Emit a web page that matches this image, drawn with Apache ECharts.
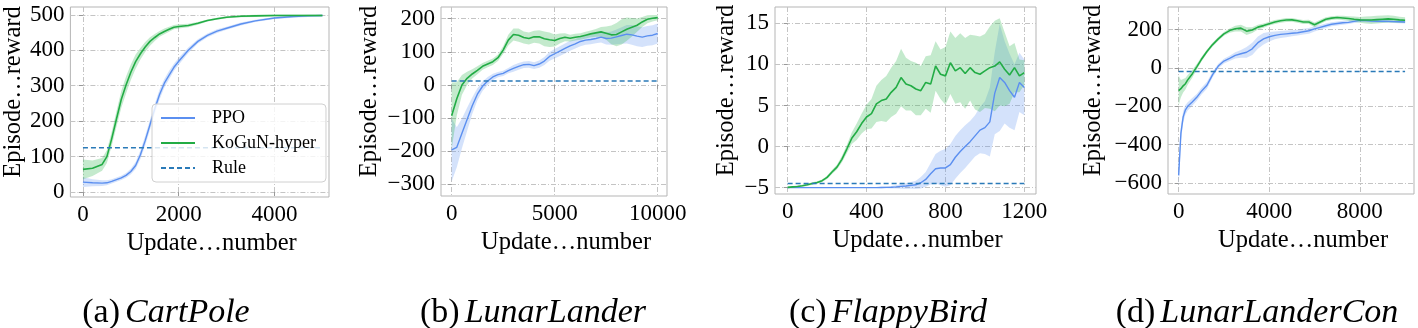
<!DOCTYPE html>
<html>
<head>
<meta charset="utf-8">
<script src="https://cdn.jsdelivr.net/npm/echarts@6/dist/echarts.min.js"></script>
<style>
  html, body { margin: 0; padding: 0; background: #fff; }
  #chart { width: 1418px; height: 328px; }
</style>
</head>
<body>
<div id="chart"></div>
<script>
// ---- (a) CartPole ----
const cartX = [0, 200, 400, 500, 600, 700, 800, 900, 1000, 1100, 1200, 1300, 1400, 1500, 1600, 1700, 1800, 1900, 2000, 2200, 2400, 2600, 2800, 3000, 3300, 3600, 4000, 4400, 4700, 5000];
const cartPpo = [28, 26, 25, 26, 30, 35, 40, 47, 58, 75, 105, 145, 190, 235, 275, 307, 330, 352, 369, 400, 425, 442, 454, 462, 474, 483, 491, 495, 497, 498];
const cartPpoSd = [14, 10, 8, 7, 6, 6, 6, 7, 8, 10, 12, 14, 14, 14, 14, 12, 12, 10, 10, 8, 6, 5, 5, 4, 4, 3, 3, 3, 3, 3];
const cartKog = [64, 67, 78, 100, 150, 206, 261, 302, 338, 368, 390, 409, 425, 436, 446, 453, 459, 465, 467, 470, 476, 484, 489, 493, 496, 497, 498, 498, 498, 498];
const cartKogSd = [28, 22, 18, 18, 20, 22, 24, 24, 22, 20, 16, 14, 12, 10, 8, 8, 7, 6, 6, 5, 4, 3, 3, 3, 3, 3, 3, 3, 3, 3];
const cartRule = 125;

// ---- (b) LunarLander ----
const lunarX = [0, 250, 500, 750, 1000, 1250, 1500, 1750, 2000, 2250, 2500, 2750, 3000, 3250, 3500, 3750, 4000, 4250, 4500, 4750, 5000, 5250, 5500, 5750, 6000, 6250, 6500, 6750, 7000, 7250, 7500, 7750, 8000, 8250, 8500, 8750, 9000, 9250, 9500, 9750, 10000];
const lunarPpo = [-196, -188, -146, -104, -63, -28, -4, 12, 24, 31, 35, 43, 50, 56, 61, 62, 58, 63, 72, 86, 94, 102, 110, 118, 124, 131, 135, 137, 140, 144, 140, 141, 145, 149, 153, 151, 147, 144, 148, 150, 155];
const lunarPpoSd = [95, 60, 45, 35, 25, 18, 14, 12, 10, 8, 8, 8, 10, 10, 10, 10, 10, 11, 12, 13, 14, 15, 15, 15, 14, 14, 14, 14, 14, 16, 18, 20, 22, 25, 28, 30, 30, 30, 30, 30, 30];
const lunarKog = [-93, -42, 0, 20, 33, 44, 56, 63, 70, 82, 105, 135, 152, 150, 143, 140, 145, 145, 139, 136, 134, 140, 144, 141, 144, 146, 150, 154, 157, 160, 156, 151, 152, 160, 168, 174, 180, 190, 198, 201, 203];
const lunarKogSd = [100, 50, 30, 20, 14, 12, 10, 10, 10, 10, 12, 16, 18, 20, 18, 18, 18, 20, 22, 22, 18, 15, 12, 10, 10, 10, 10, 10, 12, 15, 20, 28, 35, 38, 35, 28, 20, 15, 12, 10, 8];
const lunarRule = 12;

// ---- (c) FlappyBird ----
const flappyX = [0, 25, 50, 75, 100, 125, 150, 175, 200, 225, 250, 275, 300, 325, 350, 375, 400, 425, 450, 475, 500, 525, 550, 575, 600, 625, 650, 675, 700, 725, 750, 775, 800, 825, 850, 875, 900, 925, 950, 975, 1000, 1025, 1050, 1075, 1100, 1125, 1150, 1175, 1200];
const flappyPpo = [-5, -5, -5, -5, -5, -5, -5, -5, -5, -5, -5, -5, -5, -5, -5, -5, -5, -5, -5, -4.98, -4.97, -4.95, -4.9, -4.84, -4.8, -4.72, -4.65, -4.4, -4, -3.3, -2.7, -2.6, -2.6, -2.2, -1.3, -0.6, 0, 0.6, 1.3, 2, 2.3, 3, 6.5, 8.4, 7.8, 6.8, 6, 7.8, 7.2];
const flappyPpoSd = [0.05, 0.05, 0.05, 0.05, 0.05, 0.05, 0.05, 0.05, 0.05, 0.05, 0.05, 0.05, 0.05, 0.05, 0.05, 0.05, 0.05, 0.05, 0.05, 0.08, 0.1, 0.15, 0.2, 0.28, 0.35, 0.42, 0.5, 0.7, 0.9, 1.3, 1.8, 2.1, 2.3, 2.5, 2.6, 2.6, 2.6, 2.5, 2.5, 2.8, 3.2, 4.2, 5, 6.5, 5, 4.5, 4, 3.6, 3.4];
const flappyKog = [-4.96, -4.9, -4.85, -4.77, -4.65, -4.5, -4.38, -4.15, -3.75, -3.1, -2.5, -1.55, -0.3, 1, 1.8, 2.8, 3.6, 4, 5.2, 5.6, 5.8, 6.6, 7.2, 8.4, 7.6, 7.4, 7, 6.8, 7.8, 7.6, 9.8, 8.8, 8.6, 10.2, 9.2, 9.6, 8.9, 9.6, 9, 8.8, 9.2, 9.6, 9.8, 10.3, 9.4, 8.7, 9.6, 8.6, 9];
const flappyKogSd = [0.1, 0.1, 0.12, 0.12, 0.14, 0.15, 0.15, 0.15, 0.2, 0.25, 0.3, 0.4, 0.5, 0.7, 1, 1.2, 1.5, 1.8, 2.2, 2.5, 2.8, 3, 3.2, 3.5, 3.2, 3, 3.2, 3, 3.2, 3.5, 3, 3, 3.5, 3.8, 4, 4.2, 4.3, 4, 4.5, 4.6, 4.5, 5, 5.5, 5.3, 4.5, 3.5, 3, 2, 1.5];
const flappyRule = -4.5;

// ---- (d) LunarLanderCon ----
const conX = [0, 50, 100, 200, 300, 400, 600, 800, 1000, 1250, 1500, 1750, 2000, 2250, 2500, 2750, 3000, 3250, 3500, 3750, 4000, 4250, 4500, 4750, 5000, 5250, 5500, 5750, 6000, 6250, 6500, 6750, 7000, 7250, 7500, 7750, 8000, 8250, 8500, 8750, 9000, 9250, 9500, 9750, 10000];
const conPpo = [-560, -450, -340, -255, -218, -200, -177, -153, -122, -90, -35, 10, 36, 50, 66, 74, 82, 100, 132, 152, 163, 170, 175, 178, 181, 184, 189, 194, 204, 212, 220, 228, 232, 236, 238, 243, 248, 247, 245, 244, 244, 243, 242, 241, 240];
const conPpoSd = [60, 50, 40, 30, 25, 22, 20, 18, 18, 18, 15, 12, 12, 14, 16, 20, 28, 32, 32, 30, 25, 20, 18, 18, 16, 15, 15, 15, 14, 12, 12, 11, 10, 10, 9, 9, 8, 8, 8, 8, 8, 8, 8, 8, 8];
const conKog = [-118, -112, -108, -93, -82, -62, -31, 6, 44, 86, 122, 152, 178, 195, 205, 208, 192, 198, 213, 221, 231, 240, 246, 250, 251, 246, 240, 240, 225, 240, 254, 260, 263, 261, 258, 254, 251, 250, 250, 252, 254, 256, 254, 251, 249];
const conKogSd = [80, 60, 45, 35, 30, 25, 20, 15, 12, 11, 10, 10, 10, 11, 15, 18, 20, 15, 12, 11, 10, 10, 10, 10, 10, 10, 10, 11, 12, 11, 10, 10, 10, 11, 12, 14, 15, 18, 20, 20, 20, 19, 18, 16, 15];
const conRule = -18;

// axis ticks
const xTicks = [[0, 2000, 4000], [0, 5000, 10000], [0, 400, 800, 1200], [0, 4000, 8000]];
const yTicks = [[0, 100, 200, 300, 400, 500], [-300, -200, -100, 0, 100, 200], [-5, 0, 5, 10, 15], [-600, -400, -200, 0, 200]];
const captions = [['(a)', 'CartPole'], ['(b)', 'LunarLander'], ['(c)', 'FlappyBird'], ['(d)', 'LunarLanderCon']];

const FONT = '"Liberation Serif", "Times New Roman", serif';
const PPO_C = '#5b8ff0';
const KOG_C = '#22ac45';
const RULE_C = '#2a7ab8';

const panels = [
  { x: cartX, ppo: cartPpo, ppoSd: cartPpoSd, kog: cartKog, kogSd: cartKogSd, rule: cartRule,
    grid: { left: 68, top: 7, width: 261, height: 190 }, xr: [-262, 5138], yr: [-14, 522], yGap: 44, cx: 161 },
  { x: lunarX, ppo: lunarPpo, ppoSd: lunarPpoSd, kog: lunarKog, kogSd: lunarKogSd, rule: lunarRule,
    grid: { left: 441, top: 7, width: 226, height: 189 }, xr: [-516, 10452], yr: [-335, 235], yGap: 59, cx: 528 },
  { x: flappyX, ppo: flappyPpo, ppoSd: flappyPpoSd, kog: flappyKog, kogSd: flappyKogSd, rule: flappyRule,
    grid: { left: 775, top: 7, width: 261, height: 187 }, xr: [-64, 1259], yr: [-5.77, 16.98], yGap: 36, cx: 883 },
  { x: conX, ppo: conPpo, ppoSd: conPpoSd, kog: conKog, kogSd: conKogSd, rule: conRule,
    grid: { left: 1168, top: 7, width: 246, height: 187 }, xr: [-470, 10393], yr: [-657, 318], yGap: 62, cx: 1252 }
];

const minus = v => String(v).replace('-', '\u2212');

function band(gi, xs, mean, sd, fill) {
  return {
    type: 'custom', xAxisIndex: gi, yAxisIndex: gi, silent: true, z: 1,
    data: xs.map((x, i) => [x, mean[i] - sd[i], mean[i] + sd[i]]),
    encode: { x: 0, y: [1, 2] },
    renderItem: (params, api) => {
      if (params.dataIndex !== 0) return;
      const top = [], bot = [];
      xs.forEach((x, i) => {
        top.push(api.coord([x, mean[i] + sd[i]]));
        bot.unshift(api.coord([x, mean[i] - sd[i]]));
      });
      return { type: 'polygon', shape: { points: top.concat(bot) }, style: { fill } };
    }
  };
}

function line(gi, name, xs, ys, color, width, type) {
  return {
    type: 'line', name, xAxisIndex: gi, yAxisIndex: gi, z: 3,
    symbol: 'none', showSymbol: false, silent: true,
    data: xs.map((x, i) => [x, ys[i]]),
    lineStyle: { color, width, type: type || 'solid' },
    itemStyle: { color }
  };
}

const grids = [], xAxes = [], yAxes = [], series = [], titles = [];
const splitStyle = { color: '#c4c4c4', width: 1, type: [5, 2, 1, 2] };
const tickStyle = { color: '#999' };

panels.forEach((p, gi) => {
  grids.push(Object.assign({ show: true, borderColor: '#b5b5b5', borderWidth: 1 }, p.grid));
  xAxes.push({
    gridIndex: gi, type: 'value', min: p.xr[0], max: p.xr[1],
    axisLine: { show: false },
    axisTick: { show: true, customValues: xTicks[gi], length: 4, lineStyle: tickStyle },
    axisLabel: { customValues: xTicks[gi], color: '#000', fontSize: 23, fontFamily: FONT, margin: 6, formatter: minus },
    splitLine: { show: true, lineStyle: splitStyle },
    name: 'Update…number', nameLocation: 'middle', nameGap: 24,
    nameTextStyle: { color: '#000', fontSize: 24.5, fontFamily: FONT, padding: [0, 0, 0, 24] }
  });
  yAxes.push({
    gridIndex: gi, type: 'value', min: p.yr[0], max: p.yr[1],
    axisLine: { show: false },
    axisTick: { show: true, customValues: yTicks[gi], length: 4, lineStyle: tickStyle },
    axisLabel: { customValues: yTicks[gi], color: '#000', fontSize: 23, fontFamily: FONT, margin: 6, formatter: minus },
    splitLine: { show: true, lineStyle: splitStyle },
    name: 'Episode…reward', nameLocation: 'middle', nameGap: p.yGap, nameRotate: 90,
    nameTextStyle: { color: '#000', fontSize: 24.5, fontFamily: FONT, padding: [0, 0, 0, 20] }
  });
  series.push(band(gi, p.x, p.ppo, p.ppoSd, 'rgba(100,150,240,0.28)'));
  series.push(band(gi, p.x, p.kog, p.kogSd, 'rgba(60,185,90,0.3)'));
  series.push(line(gi, 'PPO', p.x, p.ppo, PPO_C, 1.4));
  series.push(line(gi, 'KoGuN-hyper', p.x, p.kog, KOG_C, 1.6));
  series.push(line(gi, 'Rule', [p.x[0], p.x[p.x.length - 1]], [p.rule, p.rule], RULE_C, 1.4, [5, 3]));
  titles.push({
    text: '{r|' + captions[gi][0] + '} {i|' + captions[gi][1] + '}',
    left: p.cx, top: 291, textAlign: 'center',
    textStyle: {
      fontWeight: 'normal',
      rich: {
        r: { fontFamily: FONT, fontSize: 34, fontWeight: 'normal', color: '#000' },
        i: { fontFamily: FONT, fontSize: 34, fontWeight: 'normal', fontStyle: 'italic', color: '#000' }
      }
    }
  });
});

const chart = echarts.init(document.getElementById('chart'));
chart.setOption({
  animation: false,
  backgroundColor: '#fff',
  title: titles,
  grid: grids,
  xAxis: xAxes,
  yAxis: yAxes,
  legend: {
    data: ['PPO', 'KoGuN-hyper', 'Rule'],
    orient: 'vertical', left: 152, top: 104,
    itemWidth: 34, itemHeight: 14, itemGap: 7,
    padding: [5, 10, 5, 8],
    backgroundColor: 'rgba(255,255,255,0.8)',
    borderColor: '#d0d0d0', borderWidth: 1, borderRadius: 4,
    selectedMode: false,
    itemStyle: { opacity: 0 },
    textStyle: { fontFamily: FONT, fontSize: 18, color: '#000', padding: [0, 0, 0, 12] }
  },
  series
});
</script>
</body>
</html>
